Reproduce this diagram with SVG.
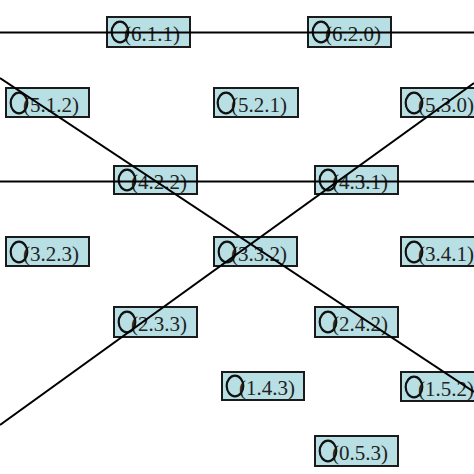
<svg xmlns="http://www.w3.org/2000/svg" width="474" height="474" viewBox="0 0 474 474">
<style>
.box{fill:#b7dfe4;stroke:#1a1a1a;stroke-width:2}
.c{fill:none;stroke:#111;stroke-width:2.2}
.t{font-family:"Liberation Serif",serif;font-size:21px;fill:#222}
.e{stroke:#000;stroke-width:2;fill:none}
</style>
<rect width="474" height="474" fill="#fff"/>
<g id="n611"><rect class="box" x="107" y="17" width="83" height="30"/><text class="t" x="124" y="41">(6.1.1)</text><ellipse class="c" cx="120" cy="32" rx="8.3" ry="10.3"/></g>
<g id="n620"><rect class="box" x="308" y="17" width="83" height="30"/><text class="t" x="325" y="41">(6.2.0)</text><ellipse class="c" cx="321" cy="32" rx="8.3" ry="10.3"/></g>
<g id="n512"><rect class="box" x="6" y="88" width="83" height="29"/><text class="t" x="23" y="112">(5.1.2)</text><ellipse class="c" cx="19" cy="103" rx="8.3" ry="10.3"/></g>
<g id="n521"><rect class="box" x="214" y="88" width="84" height="29"/><text class="t" x="231" y="112">(5.2.1)</text><ellipse class="c" cx="226" cy="103" rx="8.3" ry="10.3"/></g>
<g id="n530"><rect class="box" x="401" y="88" width="83" height="29"/><text class="t" x="418" y="112">(5.3.0)</text><ellipse class="c" cx="414" cy="103" rx="8.3" ry="10.3"/></g>
<g id="n422"><rect class="box" x="114" y="166" width="83" height="28"/><text class="t" x="131" y="189">(4.2.2)</text><ellipse class="c" cx="127" cy="180" rx="8.3" ry="10.3"/></g>
<g id="n431"><rect class="box" x="315" y="166" width="83" height="28"/><text class="t" x="332" y="189">(4.3.1)</text><ellipse class="c" cx="328" cy="180" rx="8.3" ry="10.3"/></g>
<g id="n323"><rect class="box" x="6" y="237" width="83" height="29"/><text class="t" x="23" y="261">(3.2.3)</text><ellipse class="c" cx="19" cy="252" rx="8.3" ry="10.3"/></g>
<g id="n332"><rect class="box" x="214" y="237" width="83" height="29"/><text class="t" x="231" y="261">(3.3.2)</text><ellipse class="c" cx="227" cy="252" rx="8.3" ry="10.3"/></g>
<g id="n341"><rect class="box" x="401" y="237" width="83" height="29"/><text class="t" x="418" y="261">(3.4.1)</text><ellipse class="c" cx="414" cy="252" rx="8.3" ry="10.3"/></g>
<g id="n233"><rect class="box" x="114" y="307" width="83" height="30"/><text class="t" x="131" y="331">(2.3.3)</text><ellipse class="c" cx="127" cy="322" rx="8.3" ry="10.3"/></g>
<g id="n242"><rect class="box" x="315" y="307" width="83" height="30"/><text class="t" x="332" y="331">(2.4.2)</text><ellipse class="c" cx="328" cy="322" rx="8.3" ry="10.3"/></g>
<g id="n143"><rect class="box" x="222" y="372" width="82" height="28"/><text class="t" x="239" y="395">(1.4.3)</text><ellipse class="c" cx="235" cy="386" rx="8.3" ry="10.3"/></g>
<g id="n152"><rect class="box" x="401" y="372" width="83" height="29"/><text class="t" x="418" y="396">(1.5.2)</text><ellipse class="c" cx="414" cy="387" rx="8.3" ry="10.3"/></g>
<g id="n053"><rect class="box" x="315" y="436" width="83" height="30"/><text class="t" x="332" y="460">(0.5.3)</text><ellipse class="c" cx="328" cy="451" rx="8.3" ry="10.3"/></g>
<g id="edges">
<line class="e" x1="0" y1="32.5" x2="474" y2="32.5"/>
<line class="e" x1="0" y1="181.5" x2="474" y2="181.5"/>
<line class="e" x1="0" y1="78" x2="474" y2="392"/>
<line class="e" x1="0" y1="425" x2="474" y2="83"/>
</g>
</svg>
